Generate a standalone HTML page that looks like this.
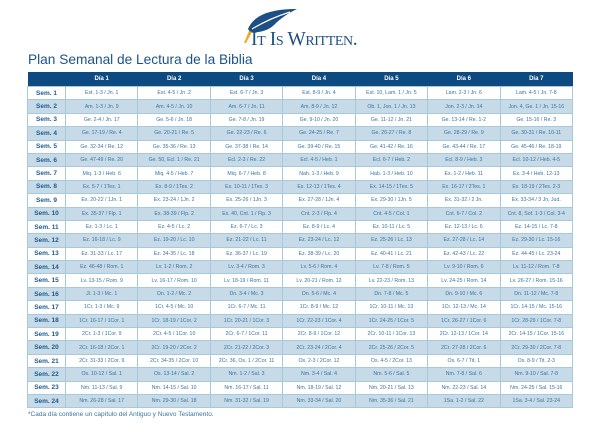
<!DOCTYPE html>
<html><head><meta charset="utf-8"><style>
body{margin:0;width:600px;height:436px;background:#fff;position:relative;overflow:hidden;font-family:"Liberation Sans",sans-serif}
.logo{position:absolute;left:251px;top:29px;font-family:"Liberation Serif",serif;color:#1c4f85;font-size:19.5px;font-variant:small-caps;letter-spacing:-0.4px;white-space:nowrap}
.title{position:absolute;left:28px;top:52px;font-size:13.7px;color:#1b5488;white-space:nowrap}
table{position:absolute;left:27px;top:72px;width:546px;border-collapse:collapse;table-layout:fixed}
th{background:#0e4a82;color:#fff;font-size:6px;font-weight:bold;height:14px;padding:0}
td{height:12.4px;padding:0;font-size:5.2px;color:#3a74a3;text-align:center;border:1px solid #a8c8dc;white-space:nowrap;overflow:hidden;background:#fff}
td.s{font-size:6.5px;font-weight:bold;color:#1d5a8e}
tbody tr:nth-child(even) td{background:#c6dbe7}
.foot{position:absolute;left:28px;top:411px;font-size:6.5px;color:#3a74a3}
</style></head><body>
<svg style="position:absolute;left:240px;top:5px" width="65" height="42">
<path d="M8 24 C14 10 30 4 57 4 C48 8 40 14 34 20 C28 26 18 28 10 27 Z" fill="#1c4f85"/>
<path d="M12 24 C22 18 34 12 50 7" stroke="#fff" stroke-width="1.2" fill="none"/>
<path d="M9 26 L4 38 L6 38 L12 27 Z" fill="#f2a81d"/>
</svg>
<div class="logo">It Is Written.</div>
<div class="title">Plan Semanal de Lectura de la Biblia</div>
<table>
<colgroup><col style="width:38px"><col><col><col><col><col><col><col></colgroup>
<thead><tr><th></th><th>Día 1</th><th>Día 2</th><th>Día 3</th><th>Día 4</th><th>Día 5</th><th>Día 6</th><th>Día 7</th></tr></thead>
<tbody>
<tr><td class="s">Sem. 1</td><td>Est. 1-3 / Jn. 1</td><td>Est. 4-5 / Jn .2</td><td>Est. 6-7 / Jn. 3</td><td>Est. 8-9 / Jn. 4</td><td>Est. 10, Lam. 1 / Jn. 5</td><td>Lam. 2-3 / Jn. 6</td><td>Lam. 4-5 / Jn. 7-8</td></tr>
<tr><td class="s">Sem. 2</td><td>Am. 1-3 / Jn. 9</td><td>Am. 4-5 / Jn. 10</td><td>Am. 6-7 / Jn. 11</td><td>Am. 8-9 / Jn. 12</td><td>Ob. 1, Jon. 1 / Jn. 13</td><td>Jon. 2-3 / Jn. 14</td><td>Jon. 4, Ge. 1 / Jn. 15-16</td></tr>
<tr><td class="s">Sem. 3</td><td>Ge. 2-4 / Jn. 17</td><td>Ge. 5-6 / Jn. 18</td><td>Ge. 7-8 / Jn. 19</td><td>Ge. 9-10 / Jn. 20</td><td>Ge. 11-12 / Jn. 21</td><td>Ge. 13-14 / Re. 1-2</td><td>Ge. 15-16 / Re. 3</td></tr>
<tr><td class="s">Sem. 4</td><td>Ge. 17-19 / Re. 4</td><td>Ge. 20-21 / Re. 5</td><td>Ge. 22-23 / Re. 6</td><td>Ge. 24-25 / Re. 7</td><td>Ge. 26-27 / Re. 8</td><td>Ge. 28-29 / Re. 9</td><td>Ge. 30-31 / Re. 10-11</td></tr>
<tr><td class="s">Sem. 5</td><td>Ge. 32-34 / Re. 12</td><td>Ge. 35-36 / Re. 13</td><td>Ge. 37-38 / Re. 14</td><td>Ge. 39-40 / Re. 15</td><td>Ge. 41-42 / Re. 16</td><td>Ge. 43-44 / Re. 17</td><td>Ge. 45-46 / Re. 18-19</td></tr>
<tr><td class="s">Sem. 6</td><td>Ge. 47-49 / Re. 20</td><td>Ge. 50, Ecl. 1 / Re. 21</td><td>Ecl. 2-3 / Re. 22</td><td>Ecl. 4-5 / Heb. 1</td><td>Ecl. 6-7 / Heb. 2</td><td>Ecl. 8-9 / Heb. 3</td><td>Ecl. 10-12 / Heb. 4-5</td></tr>
<tr><td class="s">Sem. 7</td><td>Miq. 1-3 / Heb. 6</td><td>Miq. 4-5 / Heb. 7</td><td>Miq. 6-7 / Heb. 8</td><td>Nah. 1-3 / Heb. 9</td><td>Hab. 1-3 / Heb. 10</td><td>Ex. 1-2 / Heb. 11</td><td>Ex. 3-4 / Heb. 12-13</td></tr>
<tr><td class="s">Sem. 8</td><td>Ex. 5-7 / 1Tes. 1</td><td>Ex. 8-9 / 1Tes. 2</td><td>Ex. 10-11 / 1Tes. 3</td><td>Ex. 12-13 / 1Tes. 4</td><td>Ex. 14-15 / 1Tes. 5</td><td>Ex. 16-17 / 2Tes. 1</td><td>Ex. 18-19 / 2Tes. 2-3</td></tr>
<tr><td class="s">Sem. 9</td><td>Ex. 20-22 / 1Jn. 1</td><td>Ex. 23-24 / 1Jn. 2</td><td>Ex. 25-26 / 1Jn. 3</td><td>Ex. 27-28 / 1Jn. 4</td><td>Ex. 29-30 / 1Jn. 5</td><td>Ex. 31-32 / 2 Jn.</td><td>Ex. 33-34 / 3 Jn, Jud.</td></tr>
<tr><td class="s">Sem. 10</td><td>Ex. 35-37 / Flp. 1</td><td>Ex. 38-39 / Flp. 2</td><td>Ex. 40, Cnt. 1 / Flp. 3</td><td>Cnt. 2-3 / Flp. 4</td><td>Cnt. 4-5 / Col. 1</td><td>Cnt. 6-7 / Col. 2</td><td>Cnt. 8, Sof. 1-3 / Col. 3-4</td></tr>
<tr><td class="s">Sem. 11</td><td>Ez. 1-3 / Lc. 1</td><td>Ez. 4-5 / Lc. 2</td><td>Ez. 6-7 / Lc. 3</td><td>Ez. 8-9 / Lc. 4</td><td>Ez. 10-11 / Lc. 5</td><td>Ez. 12-13 / Lc. 6</td><td>Ez. 14-15 / Lc. 7-8</td></tr>
<tr><td class="s">Sem. 12</td><td>Ez. 16-18 / Lc. 9</td><td>Ez. 19-20 / Lc. 10</td><td>Ez. 21-22 / Lc. 11</td><td>Ez. 23-24 / Lc. 12</td><td>Ez. 25-26 / Lc. 13</td><td>Ez. 27-28 / Lc. 14</td><td>Ez. 29-30 / Lc. 15-16</td></tr>
<tr><td class="s">Sem. 13</td><td>Ez. 31-33 / Lc. 17</td><td>Ez. 34-35 / Lc. 18</td><td>Ez. 36-37 / Lc. 19</td><td>Ez. 38-39 / Lc. 20</td><td>Ez. 40-41 / Lc. 21</td><td>Ez. 42-43 / Lc. 22</td><td>Ez. 44-45 / Lc. 23-24</td></tr>
<tr><td class="s">Sem. 14</td><td>Ez. 46-48 / Rom. 1</td><td>Lv. 1-2 / Rom. 2</td><td>Lv. 3-4 / Rom. 3</td><td>Lv. 5-6 / Rom. 4</td><td>Lv. 7-8 / Rom. 5</td><td>Lv. 9-10 / Rom. 6</td><td>Lv. 11-12 / Rom. 7-8</td></tr>
<tr><td class="s">Sem. 15</td><td>Lv. 13-15 / Rom. 9</td><td>Lv. 16-17 / Rom. 10</td><td>Lv. 18-19 / Rom. 11</td><td>Lv. 20-21 / Rom. 12</td><td>Lv. 22-23 / Rom. 13</td><td>Lv. 24-25 / Rom. 14</td><td>Lv. 26-27 / Rom. 15-16</td></tr>
<tr><td class="s">Sem. 16</td><td>Jl. 1-3 / Mc. 1</td><td>Dn. 1-2 / Mc. 2</td><td>Dn. 3-4 / Mc. 3</td><td>Dn. 5-6 / Mc. 4</td><td>Dn. 7-8 / Mc. 5</td><td>Dn. 9-10 / Mc. 6</td><td>Dn. 11-12 / Mc. 7-8</td></tr>
<tr><td class="s">Sem. 17</td><td>1Cr. 1-3 / Mc. 9</td><td>1Cr. 4-5 / Mc. 10</td><td>1Cr. 6-7 / Mc. 11</td><td>1Cr. 8-9 / Mc. 12</td><td>1Cr. 10-11 / Mc. 13</td><td>1Cr. 12-13 / Mc. 14</td><td>1Cr. 14-15 / Mc. 15-16</td></tr>
<tr><td class="s">Sem. 18</td><td>1Cr. 16-17 / 1Cor. 1</td><td>1Cr. 18-19 / 1Cor. 2</td><td>1Cr. 20-21 / 1Cor. 3</td><td>1Cr. 22-23 / 1Cor. 4</td><td>1Cr. 24-25 / 1Cor. 5</td><td>1Cr. 26-27 / 1Cor. 6</td><td>1Cr. 28-29 / 1Cor. 7-8</td></tr>
<tr><td class="s">Sem. 19</td><td>2Cr. 1-3 / 1Cor. 9</td><td>2Cr. 4-5 / 1Cor. 10</td><td>2Cr. 6-7 / 1Cor. 11</td><td>2Cr. 8-9 / 1Cor. 12</td><td>2Cr. 10-11 / 1Cor. 13</td><td>2Cr. 12-13 / 1Cor. 14</td><td>2Cr. 14-15 / 1Cor. 15-16</td></tr>
<tr><td class="s">Sem. 20</td><td>2Cr. 16-18 / 2Cor. 1</td><td>2Cr. 19-20 / 2Cor. 2</td><td>2Cr. 21-22 / 2Cor. 3</td><td>2Cr. 23-24 / 2Cor. 4</td><td>2Cr. 25-26 / 2Cor. 5</td><td>2Cr. 27-28 / 2Cor. 6</td><td>2Cr. 29-30 / 2Cor. 7-8</td></tr>
<tr><td class="s">Sem. 21</td><td>2Cr. 31-33 / 2Cor. 9</td><td>2Cr. 34-35 / 2Cor. 10</td><td>2Cr. 36, Os. 1 / 2Cor. 11</td><td>Os. 2-3 / 2Cor. 12</td><td>Os. 4-5 / 2Cor. 13</td><td>Os. 6-7 / Tit. 1</td><td>Os. 8-9 / Tit. 2-3</td></tr>
<tr><td class="s">Sem. 22</td><td>Os. 10-12 / Sal. 1</td><td>Os. 13-14 / Sal. 2</td><td>Nm. 1-2 / Sal. 3</td><td>Nm. 3-4 / Sal. 4</td><td>Nm. 5-6 / Sal. 5</td><td>Nm. 7-8 / Sal. 6</td><td>Nm. 9-10 / Sal. 7-8</td></tr>
<tr><td class="s">Sem. 23</td><td>Nm. 11-13 / Sal. 9</td><td>Nm. 14-15 / Sal. 10</td><td>Nm. 16-17 / Sal. 11</td><td>Nm. 18-19 / Sal. 12</td><td>Nm. 20-21 / Sal. 13</td><td>Nm. 22-23 / Sal. 14</td><td>Nm. 24-25 / Sal. 15-16</td></tr>
<tr><td class="s">Sem. 24</td><td>Nm. 26-28 / Sal. 17</td><td>Nm. 29-30 / Sal. 18</td><td>Nm. 31-32 / Sal. 19</td><td>Nm. 33-34 / Sal. 20</td><td>Nm. 35-36 / Sal. 21</td><td>1Sa. 1-2 / Sal. 22</td><td>1Sa. 3-4 / Sal. 23-24</td></tr>
</tbody></table>
<div class="foot">*Cada día contiene un capítulo del Antiguo y Nuevo Testamento.</div>
</body></html>
